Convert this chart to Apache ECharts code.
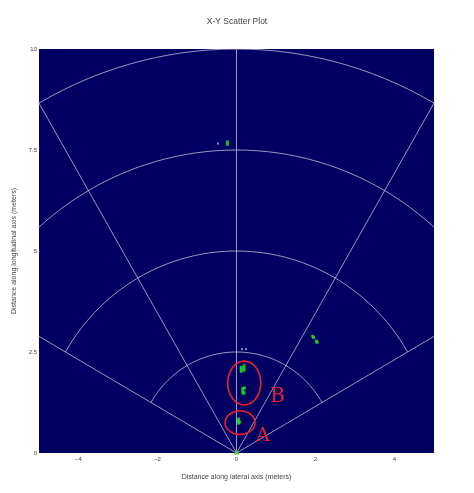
<!DOCTYPE html>
<html>
<head>
<meta charset="utf-8">
<script src="https://cdn.jsdelivr.net/npm/echarts@6/dist/echarts.min.js"></script>
<style>html,body{margin:0;padding:0;background:#fff}#c{width:474px;height:493px}</style>
</head>
<body>
<div id="c"></div>
<script>
// ---- data ----
const xTicks = [-4, -2, 0, 2, 4];
const yTicks = [0, 2.5, 5, 7.5, 10];
const gridRadii = [2.5, 5, 7.5, 10];
const gridAngles = [30, 60, 90, 120, 150];

const detX = [0.05, 0.05, 0.05, 0.08, 0.16, 0.19, 0.16, 0.16, 0.20, 0.12, 0.12, 0.12, 0.19, 0.19, 0.19, -0.23, -0.23, 1.93, 1.95, 2.02, 2.04];
const detY = [0.74, 0.79, 0.84, 0.77, 1.48, 1.49, 1.54, 1.60, 1.61, 2.02, 2.07, 2.12, 2.05, 2.10, 2.16, 7.64, 7.70, 2.89, 2.86, 2.77, 2.74];
const faintX = [-0.47, 0.14, 0.24];
const faintY = [7.66, 2.57, 2.57];
const sensorX = [0];
const sensorY = [0.03];

// hand-drawn annotations (data units)
const ringCx = [0.09, 0.196];
const ringCy = [0.75, 1.733];
const ringRx = [0.38, 0.418];
const ringRy = [0.29, 0.54];
const noteText = ['A', 'B'];
const noteX = [0.67, 1.04];
const noteY = [0.41, 1.40];

// ---- build ----
const gridColor = 'rgba(215,215,235,0.7)';
const series = [];
gridRadii.forEach(r => {
  const pts = [];
  for (let a = 30; a <= 150; a += 2) {
    const t = a * Math.PI / 180;
    pts.push([r * Math.cos(t), r * Math.sin(t)]);
  }
  series.push({type: 'line', data: pts, showSymbol: false, silent: true, clip: true,
    lineStyle: {color: gridColor, width: 1}, z: 1, animation: false});
});
gridAngles.forEach(a => {
  const t = a * Math.PI / 180;
  series.push({type: 'line', data: [[0, 0], [12 * Math.cos(t), 12 * Math.sin(t)]], showSymbol: false,
    silent: true, clip: true, lineStyle: {color: gridColor, width: 1}, z: 1, animation: false});
});
series.push({type: 'scatter', data: detX.map((x, i) => [x, detY[i]]), symbol: 'rect', symbolSize: 3,
  itemStyle: {color: '#1fe01f'}, z: 5, animation: false});
series.push({type: 'scatter', data: faintX.map((x, i) => [x, faintY[i]]), symbol: 'rect', symbolSize: 2,
  itemStyle: {color: '#7fc6d0'}, z: 5, animation: false});
series.push({type: 'scatter', data: sensorX.map((x, i) => [x, sensorY[i]]), symbol: 'triangle', symbolSize: 6,
  itemStyle: {color: '#33cc33'}, z: 6, clip: false, animation: false});
series.push({type: 'custom', data: ringCx.map((x, i) => [x, ringCy[i], ringRx[i], ringRy[i]]),
  encode: {x: 0, y: 1}, silent: true, z: 8, animation: false,
  renderItem: function (params, api) {
    const c = api.coord([api.value(0), api.value(1)]);
    const s = api.size([api.value(2), api.value(3)]);
    const pts = [];
    for (let a = 0; a < 360; a += 10) {
      const t = a * Math.PI / 180;
      pts.push([c[0] + s[0] * Math.cos(t), c[1] + s[1] * Math.sin(t)]);
    }
    return {type: 'polygon', shape: {points: pts, smooth: 0.3},
      style: {fill: 'none', stroke: '#e3232b', lineWidth: 1.6}};
  }});
series.push({type: 'custom', data: noteX.map((x, i) => [x, noteY[i], i]),
  encode: {x: 0, y: 1}, silent: true, z: 8, animation: false,
  renderItem: function (params, api) {
    const c = api.coord([api.value(0), api.value(1)]);
    return {type: 'text', x: c[0], y: c[1],
      style: {text: noteText[api.value(2)], fill: '#e3232b', fontSize: api.value(2) === 0 ? 19 : 20,
        fontFamily: 'DejaVu Serif, Liberation Serif, serif', align: 'center', verticalAlign: 'middle'}};
  }});

const chart = echarts.init(document.getElementById('c'), null, {renderer: 'canvas'});
const font = 'Liberation Sans, Arial, sans-serif';
chart.setOption({
  animation: false,
  backgroundColor: '#ffffff',
  title: {text: 'X-Y Scatter Plot', left: 'center', top: 12,
    textStyle: {fontSize: 8.5, fontWeight: 'normal', color: '#444', fontFamily: font}},
  grid: {left: 39, right: 40, top: 49, bottom: 40, show: true, backgroundColor: '#000062', borderWidth: 0},
  xAxis: {type: 'value', min: -5, max: 5,
    name: 'Distance along lateral axis (meters)', nameLocation: 'middle', nameGap: 21,
    nameTextStyle: {fontSize: 7, color: '#444', fontFamily: font},
    axisLine: {show: false}, axisTick: {show: false}, splitLine: {show: false},
    axisLabel: {customValues: xTicks, fontSize: 6, color: '#444', margin: 3, fontFamily: font,
      formatter: v => (v < 0 ? '\u2212' + Math.abs(v) : String(v))}},
  yAxis: {type: 'value', min: 0, max: 10,
    name: 'Distance along longitudinal axis (meters)', nameLocation: 'middle', nameGap: 15,
    nameTextStyle: {fontSize: 7, color: '#444', fontFamily: font},
    axisLine: {show: false}, axisTick: {show: false}, splitLine: {show: false},
    axisLabel: {customValues: yTicks, fontSize: 6, color: '#444', margin: 2, fontFamily: font}},
  series: series
});
</script>
</body>
</html>
